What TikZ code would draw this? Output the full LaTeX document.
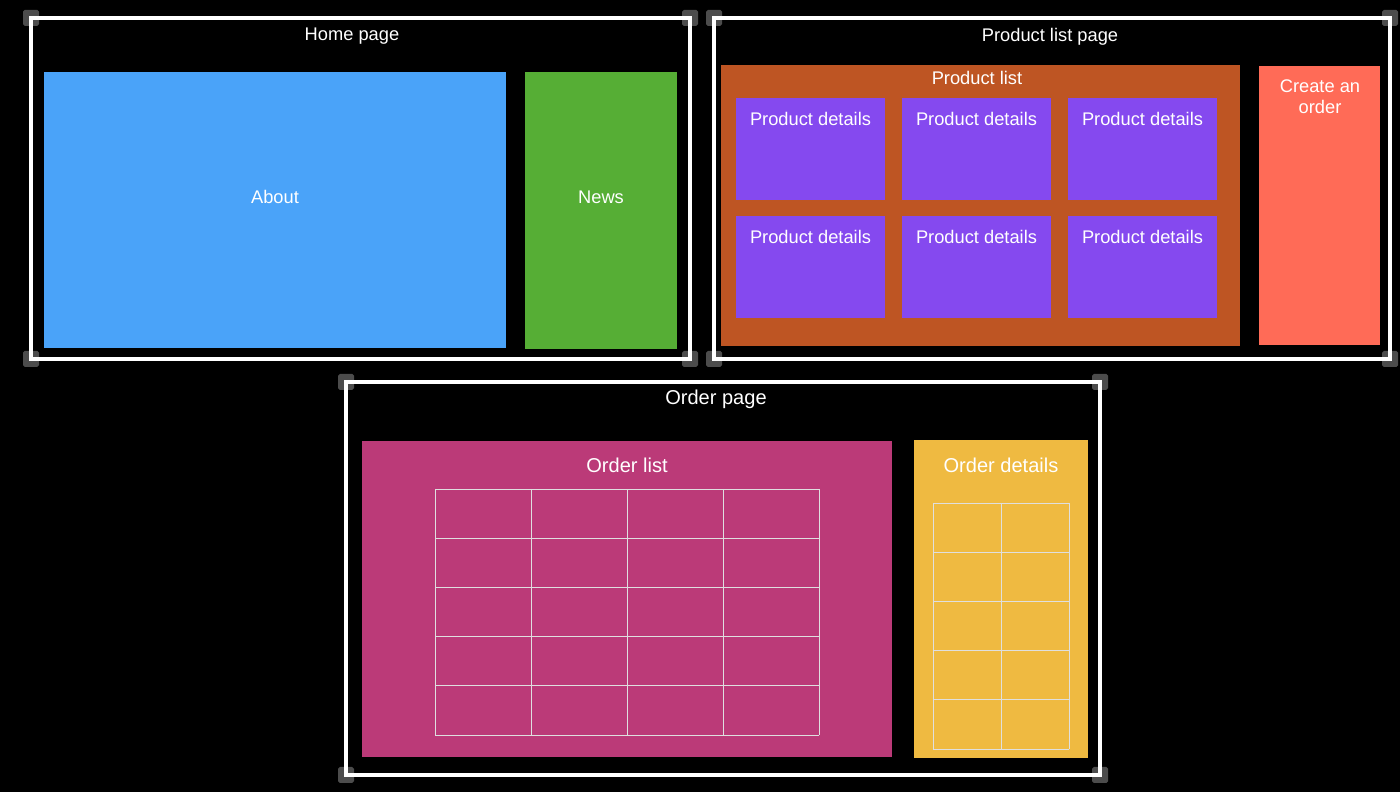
\documentclass[tikz,border=0pt]{standalone}
\usepackage{fontspec}
\setmainfont{Liberation Sans}
\definecolor{aboutblue}{HTML}{4AA3F9}
\definecolor{newsgreen}{HTML}{56AE35}
\definecolor{listbrown}{HTML}{BE5523}
\definecolor{detailpurple}{HTML}{8549EF}
\definecolor{ordersalmon}{HTML}{FF6B57}
\definecolor{orderpink}{HTML}{BB3A78}
\definecolor{orderyellow}{HTML}{EFBA41}
\tikzset{
  pageframe/.style={draw=white,line width=1.4pt},
  block/.style={draw=none,inner sep=0pt,anchor=north west,text=white},
  grid line/.style={draw=white!75!gray,line width=0.2pt},
  title/.style={text=white,font=\fontsize{5.2}{6}\selectfont},
}
\newcommand{\pageCorners}[4]{
  \foreach \cx/\cy in {#1/#2,#3/#2,#1/#4,#3/#4}
    \fill[gray!60!black,rounded corners=0.5pt] (\cx-8,\cy-8) rectangle (\cx+8,\cy+8);
}
\begin{document}
\begin{tikzpicture}[x=0.01cm,y=-0.01cm]
  \fill[black] (0,0) rectangle (1400,792);
  \useasboundingbox (0,0) rectangle (1400,792);

  % home page
  \pageCorners{31}{18}{690}{359}
  \draw[pageframe] (31,18) rectangle (690,359);
  \node[title] (home) at (352,36) {Home page};
  \fill[aboutblue] (44,72) rectangle (506,348);
  \node[title] (about) at (275,197) {About};
  \fill[newsgreen] (525,72) rectangle (677,349);
  \node[title] (news) at (601,197) {News};

  % product list page
  \pageCorners{714}{18}{1390}{359}
  \draw[pageframe] (714,18) rectangle (1390,359);
  \node[title] (plpage) at (1050,37) {Product list page};
  \fill[listbrown] (721,65) rectangle (1240,346);
  \node[title] (plist) at (977,78) {Product list};
  \foreach \px in {736,902,1068}
    \foreach \py in {98,216} {
      \fill[detailpurple] (\px,\py) rectangle (\px+149,\py+102);
      \node[title] at (\px+74.5,\py+21) {Product details};
    }
  \fill[ordersalmon] (1259,66) rectangle (1380,345);
  \node[title,align=center] (create) at (1320,97) {Create an\\order};

  % order page
  \pageCorners{346}{382}{1100}{775}
  \draw[pageframe] (346,382) rectangle (1100,775);
  \node[title,font=\fontsize{5.7}{7}\selectfont] (opage) at (716,399) {Order page};
  \fill[orderpink] (362,441) rectangle (892,757);
  \node[title,font=\fontsize{5.7}{7}\selectfont] (olist) at (627,465) {Order list};
  \foreach \gx in {435,531,627,723,819}
    \draw[grid line] (\gx,489) -- (\gx,735);
  \foreach \gy in {489,538.2,587.4,636.6,685.8,735}
    \draw[grid line] (435,\gy) -- (819,\gy);
  \fill[orderyellow] (914,440) rectangle (1088,758);
  \node[title,font=\fontsize{5.7}{7}\selectfont] (odetails) at (1001,465) {Order details};
  \foreach \gx in {933,1001,1069}
    \draw[grid line] (\gx,503) -- (\gx,749);
  \foreach \gy in {503,552.2,601.4,650.6,699.8,749}
    \draw[grid line] (933,\gy) -- (1069,\gy);
\end{tikzpicture}
\end{document}
